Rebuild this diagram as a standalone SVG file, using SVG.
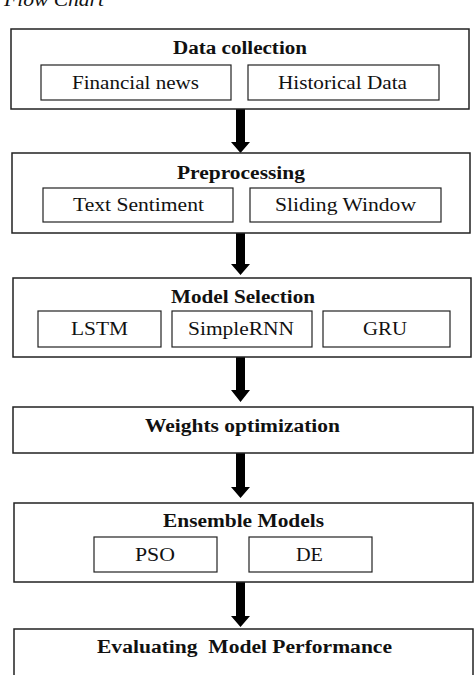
<svg xmlns="http://www.w3.org/2000/svg" width="474" height="675" viewBox="0 0 474 675">
<style>
.outer{fill:#fff;stroke:#222;stroke-width:1.5}
.inner{fill:#fff;stroke:#222;stroke-width:1.2}
.t{font-family:"Liberation Serif","Times New Roman",serif;font-size:18px;fill:#111}
.b{font-weight:bold}
.cap{font-family:"Liberation Serif","Times New Roman",serif;font-size:18px;font-style:italic;fill:#111}
.arr{fill:#000}
</style>
<defs>
<path id="arrowShape" d="M-4.5,0 H4.5 V-11 H9 L0,0 L-9,-11 H-4.5 Z"/>
</defs>
<rect width="474" height="675" fill="#fff"/>
<text class="cap" x="4" y="6" textLength="100" lengthAdjust="spacingAndGlyphs">Flow Chart</text>

<g id="connectors">
<path class="arr" d="M236,109 H245 V142 H250 L240.5,153 L231,142 H236 Z"/>
<path class="arr" d="M236,233 H245 V264 H250 L240.5,275 L231,264 H236 Z"/>
<path class="arr" d="M236,357 H245 V390 H250 L240.5,402 L231,390 H236 Z"/>
<path class="arr" d="M236,453 H245 V487 H250 L240.5,498 L231,487 H236 Z"/>
<path class="arr" d="M236,582 H245 V616 H250 L240.5,627 L231,616 H236 Z"/>
</g>

<g id="data-collection">
<rect class="outer" x="11" y="29" width="458" height="80"/>
<text class="t b" x="173" y="54" textLength="134" lengthAdjust="spacingAndGlyphs">Data collection</text>
<g id="financial-news">
<rect class="inner" x="41" y="65" width="190" height="35"/>
<text class="t" x="72" y="89" textLength="127" lengthAdjust="spacingAndGlyphs">Financial news</text>
</g>
<g id="historical-data">
<rect class="inner" x="248" y="65" width="191" height="35"/>
<text class="t" x="278" y="89" textLength="129" lengthAdjust="spacingAndGlyphs">Historical Data</text>
</g>
</g>

<g id="preprocessing">
<rect class="outer" x="12" y="153" width="458" height="80"/>
<text class="t b" x="177" y="179" textLength="128" lengthAdjust="spacingAndGlyphs">Preprocessing</text>
<g id="text-sentiment">
<rect class="inner" x="43" y="188" width="190" height="34"/>
<text class="t" x="73" y="211" textLength="131" lengthAdjust="spacingAndGlyphs">Text Sentiment</text>
</g>
<g id="sliding-window">
<rect class="inner" x="250" y="188" width="191" height="34"/>
<text class="t" x="275" y="211" textLength="141" lengthAdjust="spacingAndGlyphs">Sliding Window</text>
</g>
</g>

<g id="model-selection">
<rect class="outer" x="13" y="278" width="458" height="79"/>
<text class="t b" x="171" y="303" textLength="144" lengthAdjust="spacingAndGlyphs">Model Selection</text>
<g id="lstm">
<rect class="inner" x="38" y="311" width="123" height="36"/>
<text class="t" x="71" y="335" textLength="57" lengthAdjust="spacingAndGlyphs">LSTM</text>
</g>
<g id="simplernn">
<rect class="inner" x="172" y="311" width="140" height="36"/>
<text class="t" x="188" y="335" textLength="106" lengthAdjust="spacingAndGlyphs">SimpleRNN</text>
</g>
<g id="gru">
<rect class="inner" x="323" y="311" width="127" height="36"/>
<text class="t" x="363" y="335" textLength="44" lengthAdjust="spacingAndGlyphs">GRU</text>
</g>
</g>

<g id="weights-optimization">
<rect class="outer" x="13" y="407" width="460" height="46"/>
<text class="t b" x="145" y="432" textLength="195" lengthAdjust="spacingAndGlyphs">Weights optimization</text>
</g>

<g id="ensemble-models">
<rect class="outer" x="14" y="503" width="459" height="79"/>
<text class="t b" x="163" y="527" textLength="161" lengthAdjust="spacingAndGlyphs">Ensemble Models</text>
<g id="pso">
<rect class="inner" x="94" y="537" width="123" height="35"/>
<text class="t" x="135" y="561" textLength="40" lengthAdjust="spacingAndGlyphs">PSO</text>
</g>
<g id="de">
<rect class="inner" x="249" y="537" width="123" height="35"/>
<text class="t" x="296" y="561" textLength="27" lengthAdjust="spacingAndGlyphs">DE</text>
</g>
</g>

<g id="evaluating-model-performance">
<rect class="outer" x="14" y="629" width="459" height="70"/>
<text class="t b" x="97" y="653" textLength="295" lengthAdjust="spacingAndGlyphs" xml:space="preserve">Evaluating  Model Performance</text>
</g>
</svg>
